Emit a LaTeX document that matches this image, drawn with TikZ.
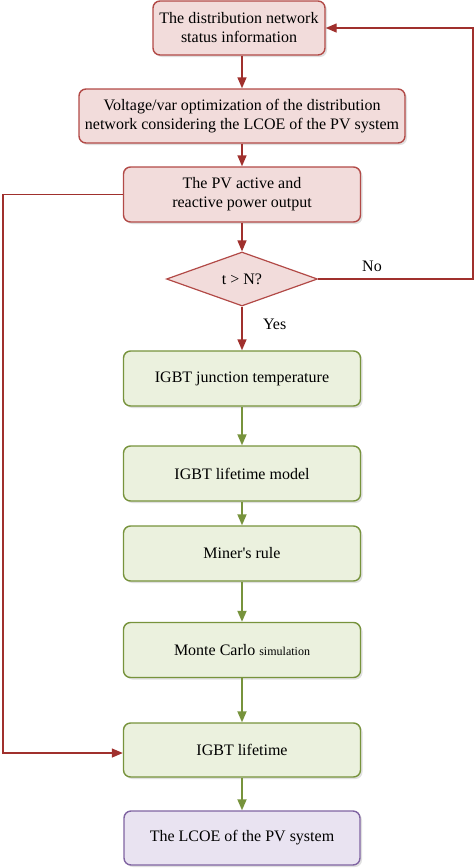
\documentclass[tikz,border=0pt]{standalone}
\usepackage{fontspec}
\setmainfont{Liberation Serif}
\usetikzlibrary{shapes.geometric,arrows.meta,shadows}
\definecolor{redfill}{HTML}{F2DCDB}
\definecolor{redline}{HTML}{B24A47}
\definecolor{redarrow}{HTML}{A0302D}
\definecolor{greenfill}{HTML}{EBF1DE}
\definecolor{greenline}{HTML}{77933C}
\definecolor{purplefill}{HTML}{E9E3F1}
\definecolor{purpleline}{HTML}{8064A2}
\tikzset{
  box/.style={rectangle, rounded corners=7pt, line width=1.4pt, align=center,
    inner sep=2pt, font=\fontsize{16}{19}\selectfont,
    drop shadow={shadow xshift=2pt, shadow yshift=-2pt, fill=black, opacity=0.12}},
  redbox/.style={box, draw=redline, fill=redfill},
  greenbox/.style={box, draw=greenline, fill=greenfill, minimum width=237pt, minimum height=55pt},
  purplebox/.style={box, draw=purpleline, fill=purplefill, minimum width=236pt, minimum height=54pt},
  decision/.style={diamond, aspect=2.8, draw=redline, fill=redfill, line width=1.2pt,
    minimum width=151pt, minimum height=54pt, inner sep=0pt, font=\fontsize{16}{19}\selectfont},
  redarr/.style={draw=redarrow, line width=1.4pt, -{Triangle[length=11pt,width=9pt]}},
  greenarr/.style={draw=greenline, line width=1.8pt, -{Triangle[length=11pt,width=9pt]}},
  lbl/.style={font=\fontsize{16}{19}\selectfont}
}
\begin{document}
\begin{tikzpicture}[x=1pt,y=-1pt]
\useasboundingbox (0,0) rectangle (474,868);
\node[redbox, minimum width=172pt, minimum height=54pt] (b1) at (239,28) {The distribution network\\status information};
\node[redbox, minimum width=326pt, minimum height=54pt] (b2) at (242,116) {Voltage/var optimization of the distribution\\network considering the LCOE of the PV system};
\node[redbox, minimum width=237pt, minimum height=55pt] (b3) at (242,194.5) {The PV active and\\reactive power output};
\node[decision] (d) at (242,279) {t > N?};
\node[greenbox] (g1) at (242,378.5) {IGBT junction temperature};
\node[greenbox] (g2) at (242,473.5) {IGBT lifetime model};
\node[greenbox] (g3) at (242,553.5) {Miner\textquotesingle s rule};
\node[greenbox] (g4) at (242,650) {Monte Carlo {\fontsize{12}{14}\selectfont simulation}};
\node[greenbox, minimum height=54pt] (g5) at (242,750) {IGBT lifetime};
\node[purplebox] (p) at (242,838) {The LCOE of the PV system};

\coordinate (nr) at (473,279);
\coordinate (nt) at (473,28);
\coordinate (ll) at (3,194.5);
\coordinate (lb) at (3,753);

\draw[redarr] (b1.south -| b2.north) -- (b2);
\draw[redarr] (b2) -- (b3);
\draw[redarr] (b3) -- (d);
\draw[redarr] (d) -- (g1) node[lbl, pos=0.4, right=17pt] {Yes};
\draw[redarr] (d.east) -- (nr) -- (nt) -- (b1.east);
\node[lbl] (no) at (372,266) {No};
\draw[redarr] (b3.west) -- (ll) -- (lb) -- (g5.west |- lb);
\draw[greenarr] (g1) -- (g2);
\draw[greenarr] (g2) -- (g3);
\draw[greenarr] (g3) -- (g4);
\draw[greenarr] (g4) -- (g5);
\draw[greenarr] (g5) -- (p);
\end{tikzpicture}
\end{document}
